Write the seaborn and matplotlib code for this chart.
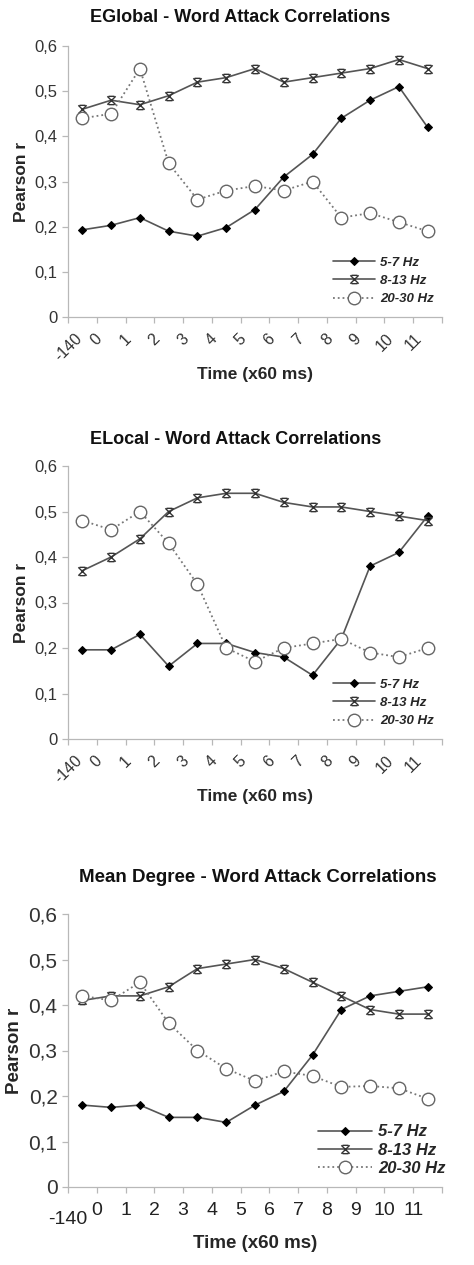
import numpy as np
import pandas as pd
import seaborn as sns
import matplotlib
matplotlib.use('Agg')
import matplotlib.pyplot as plt
from matplotlib.path import Path

# time bins (labels sit on the bin edges, points in the middle of the bins)
time_labels = ['-140', '0', '1', '2', '3', '4', '5', '6', '7', '8', '9', '10', '11']
bands = ['5-7 Hz', '8-13 Hz', '20-30 Hz']

eglobal_57 = [0.193, 0.203, 0.22, 0.19, 0.179, 0.198, 0.238, 0.31, 0.36, 0.44, 0.48, 0.51, 0.42]
eglobal_813 = [0.46, 0.48, 0.47, 0.49, 0.52, 0.53, 0.55, 0.52, 0.53, 0.54, 0.55, 0.57, 0.55]
eglobal_2030 = [0.44, 0.45, 0.55, 0.34, 0.26, 0.28, 0.29, 0.28, 0.30, 0.22, 0.23, 0.21, 0.19]

elocal_57 = [0.196, 0.196, 0.23, 0.16, 0.21, 0.21, 0.19, 0.18, 0.14, 0.22, 0.38, 0.41, 0.49]
elocal_813 = [0.37, 0.40, 0.44, 0.50, 0.53, 0.54, 0.54, 0.52, 0.51, 0.51, 0.50, 0.49, 0.48]
elocal_2030 = [0.48, 0.46, 0.50, 0.43, 0.34, 0.20, 0.17, 0.20, 0.21, 0.22, 0.19, 0.18, 0.20]

degree_57 = [0.18, 0.175, 0.18, 0.153, 0.153, 0.142, 0.18, 0.21, 0.29, 0.39, 0.42, 0.43, 0.44]
degree_813 = [0.41, 0.42, 0.42, 0.44, 0.48, 0.49, 0.50, 0.48, 0.45, 0.42, 0.39, 0.38, 0.38]
degree_2030 = [0.42, 0.41, 0.45, 0.36, 0.30, 0.26, 0.233, 0.254, 0.244, 0.22, 0.222, 0.217, 0.194]

titles = ['EGlobal - Word Attack Correlations',
          'ELocal - Word Attack Correlations',
          'Mean Degree - Word Attack Correlations']
panels = [
    [eglobal_57, eglobal_813, eglobal_2030],
    [elocal_57, elocal_813, elocal_2030],
    [degree_57, degree_813, degree_2030],
]

sns.set_theme(style='white')
plt.rcParams['font.family'] = ['Liberation Sans', 'DejaVu Sans']

# x with little caps, like the excel "star" marker
star = Path(
    [(-1, -1), (1, 1), (-1, 1), (1, -1), (-0.7, 1), (0.7, 1), (-0.7, -1), (0.7, -1)],
    [Path.MOVETO, Path.LINETO, Path.MOVETO, Path.LINETO,
     Path.MOVETO, Path.LINETO, Path.MOVETO, Path.LINETO])

line_gray = '#555555'
axis_gray = '#b8b8b8'
band_style = {
    '5-7 Hz': dict(linestyle='-', marker='D', markersize=4.5, markerfacecolor='black',
                   markeredgecolor='black', color=line_gray, linewidth=1.2),
    '8-13 Hz': dict(linestyle='-', marker=star, markersize=6, markerfacecolor='none',
                    markeredgecolor='#333333', markeredgewidth=1.0, color=line_gray, linewidth=1.2),
    '20-30 Hz': dict(linestyle=':', marker='o', markersize=9, markerfacecolor='white',
                     markeredgecolor='#666666', markeredgewidth=1.0, color='#777777', linewidth=1.3),
}

fig = plt.figure(figsize=(4.74, 12.65), dpi=100)
H = 1265.0
# (axes top px, axes bottom px, title y px, title x px)
layout = [(46, 317, 18, 240), (466, 739, 440, 236), (914, 1187, 877, 258)]

xpos = np.arange(len(time_labels)) + 0.5

for i, (vals, title) in enumerate(zip(panels, titles)):
    top, bottom, ty, tx = layout[i]
    ax = fig.add_axes([68 / 474, (H - bottom) / H, 374 / 474, (bottom - top) / H])
    big = (i == 2)

    df = pd.DataFrame({'Time': np.tile(xpos, 3),
                       'r': np.concatenate(vals),
                       'Band': np.repeat(bands, len(xpos))})
    for band in bands:
        sub = df[df['Band'] == band]
        sns.lineplot(x='Time', y='r', data=sub, ax=ax, label=band, **band_style[band])

    ax.set_xlim(0, 13)
    ax.set_ylim(0, 0.6)
    yt = np.arange(0, 0.61, 0.1)
    ax.set_yticks(yt)
    ax.set_yticklabels(['0' if v == 0 else ('%.1f' % v).replace('.', ',') for v in yt],
                       fontsize=15 if big else 12, color='#333333')
    ax.set_xticks(np.arange(14))
    for s in ['top', 'right']:
        ax.spines[s].set_visible(False)
    for s in ['left', 'bottom']:
        ax.spines[s].set_color(axis_gray)
        ax.spines[s].set_linewidth(0.9)
    ax.tick_params(axis='both', direction='out', length=4, width=0.9, color=axis_gray,
                   bottom=True, left=True)
    if big:
        ax.tick_params(axis='x', pad=7)
        ax.set_xticklabels(time_labels + [''], fontsize=14, color='#222222')
        ax.xaxis.get_major_ticks()[0].set_pad(13)
    else:
        ax.tick_params(axis='x', pad=6)
        ax.set_xticklabels(time_labels + [''], fontsize=11.5, rotation=45,
                           ha='center', color='#333333')

    ax.set_xlabel('Time (x60 ms)', fontsize=13.5 if big else 12.5, fontweight='bold',
                  labelpad=5 if big else 2)
    ax.set_ylabel('Pearson r', fontsize=13.5 if big else 12.5, fontweight='bold', labelpad=4)

    leg = ax.legend(loc='lower right', bbox_to_anchor=(1.05, -0.015) if big else (1.01, 0.0),
                    frameon=False, handlelength=3.2, handletextpad=0.4,
                    labelspacing=0.2 if big else 0.45,
                    prop=dict(weight='bold', style='italic', size=12 if big else 9.5))

    fig.text(tx / 474, 1 - ty / H, title, ha='center', va='center',
             fontsize=13.5 if big else 13, fontweight='bold', color='#111111')

fig.savefig('out.png', dpi=100, facecolor='white')
